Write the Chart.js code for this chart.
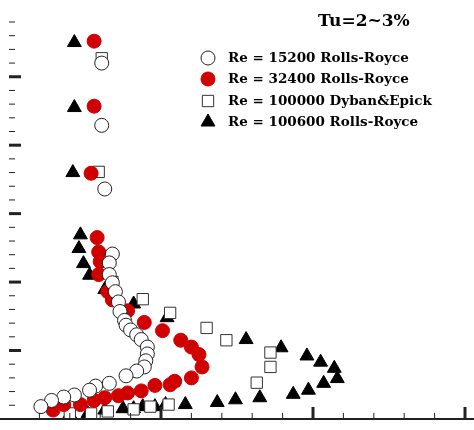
<!DOCTYPE html>
<html>
<head>
<meta charset="utf-8">
<script src="https://cdn.jsdelivr.net/npm/chart.js@4"></script>
<style>
  html, body { margin: 0; padding: 0; background: #fff; overflow: hidden; }
  canvas { display: block; }
</style>
</head>
<body>
<canvas id="myChart" width="474" height="430"></canvas>
<script>
// data (x, y in axis units)
const re15200X = [.61,.61,.63,.68,.66,.66,.68,.70,.72,.73,.76,.77,.80,.84,.87,.91,.91,.90,.89,.84,.77,.66,.57,.53,.43,.36,.28,.21];
const re15200Y = [5.20,4.29,3.36,2.41,2.28,2.11,1.99,1.86,1.71,1.57,1.44,1.37,1.30,1.23,1.16,1.05,.95,.85,.76,.70,.63,.52,.48,.42,.35,.32,.27,.18];
const re32400X = [.56,.56,.54,.58,.59,.60,.59,.65,.68,.78,.89,1.01,1.13,1.20,1.25,1.27,1.20,1.09,1.06,.96,.87,.78,.72,.63,.56,.47,.36,.29];
const re32400Y = [5.52,4.57,3.59,2.65,2.44,2.30,2.11,1.86,1.74,1.58,1.41,1.29,1.15,1.05,.94,.76,.60,.55,.50,.49,.41,.38,.34,.31,.27,.21,.21,.13];
const re100000X = [.61,.59,.68,.88,1.06,1.30,1.43,1.72,1.72,1.63,1.05,.93,.82,.65,.54,.40];
const re100000Y = [5.27,3.61,2.00,1.75,1.55,1.33,1.15,.97,.76,.53,.21,.18,.14,.11,.08,.08];
const re100600X = [.43,.43,.42,.47,.46,.49,.53,.63,.82,1.04,1.56,1.79,1.96,2.05,2.14,2.16,2.07,1.97,1.87,1.65,1.49,1.37,1.16,1.03,.96,.88,.82,.75,.63,.52,.40];
const re100600Y = [5.50,4.55,3.60,2.69,2.49,2.27,2.10,1.89,1.68,1.48,1.16,1.04,.92,.83,.74,.59,.52,.42,.36,.31,.28,.24,.21,.21,.18,.18,.15,.15,.13,.08,.07];
const seriesNames = ['Re = 15200 Rolls-Royce', 'Re = 32400 Rolls-Royce', 'Re = 100000 Dyban&Epick', 'Re = 100600 Rolls-Royce'];
const titleText = 'Tu=2~3%';

const pts = (xs, ys) => xs.map((x, i) => ({ x: x, y: ys[i] }));

// inward ticks on the left and bottom edges, plus title and legend
const decorations = {
  id: 'decorations',
  afterDraw(chart) {
    const c = chart.ctx, xs = chart.scales.x, ys = chart.scales.y;
    const bottom = ys.getPixelForValue(0), left = xs.getPixelForValue(0);
    c.save();
    c.strokeStyle = '#222';
    for (let i = 1; i < 30; i++) {
      const v = i * 0.2, major = i % 5 === 0;
      const py = ys.getPixelForValue(v);
      c.lineWidth = major ? 3 : 1;
      c.beginPath(); c.moveTo(left, py); c.lineTo(left + (major ? 12 : 6), py); c.stroke();
      const px = xs.getPixelForValue(v);
      c.beginPath(); c.moveTo(px, bottom); c.lineTo(px, bottom - (major ? 12 : 6)); c.stroke();
    }
    c.lineWidth = 2;
    c.beginPath(); c.moveTo(0, bottom); c.lineTo(chart.width, bottom); c.stroke();

    c.fillStyle = '#000';
    c.textBaseline = 'middle';
    c.font = 'bold 17px "DejaVu Serif"';
    c.fillText(titleText, 318, 22);
    c.font = 'bold 13.5px "DejaVu Serif"';
    const rows = [58, 79, 101, 122];
    chart.data.datasets.forEach((ds, i) => {
      c.fillStyle = ds.backgroundColor; c.strokeStyle = ds.borderColor; c.lineWidth = 1;
      Chart.helpers.drawPoint(c, { pointStyle: ds.pointStyle, radius: ds.pointRadius, borderWidth: 1 }, 208, rows[i]);
      c.fillStyle = '#000';
      c.fillText(seriesNames[i], 228, rows[i]);
    });
    c.restore();
  }
};

const ctx = document.getElementById('myChart').getContext('2d');
const myChart = new Chart(ctx, {
  type: 'scatter',
  data: {
    datasets: [
      { label: seriesNames[0], data: pts(re15200X, re15200Y), pointStyle: 'circle', pointRadius: 7, backgroundColor: '#fff', borderColor: '#222', borderWidth: 1 },
      { label: seriesNames[1], data: pts(re32400X, re32400Y), pointStyle: 'circle', pointRadius: 7, backgroundColor: '#d00000', borderColor: '#d00000', borderWidth: 1 },
      { label: seriesNames[2], data: pts(re100000X, re100000Y), pointStyle: 'rect', pointRadius: 8, backgroundColor: '#fff', borderColor: '#333', borderWidth: 1 },
      { label: seriesNames[3], data: pts(re100600X, re100600Y), pointStyle: 'triangle', pointRadius: 8, backgroundColor: '#000', borderColor: '#000', borderWidth: 1 }
    ]
  },
  options: {
    responsive: false,
    animation: false,
    layout: { padding: 0 },
    plugins: { legend: { display: false }, tooltip: { enabled: false } },
    scales: {
      x: { display: false, min: 0, max: 3 },
      y: { display: false, min: -0.03, max: 5.99 }
    }
  },
  plugins: [decorations]
});
</script>
</body>
</html>
